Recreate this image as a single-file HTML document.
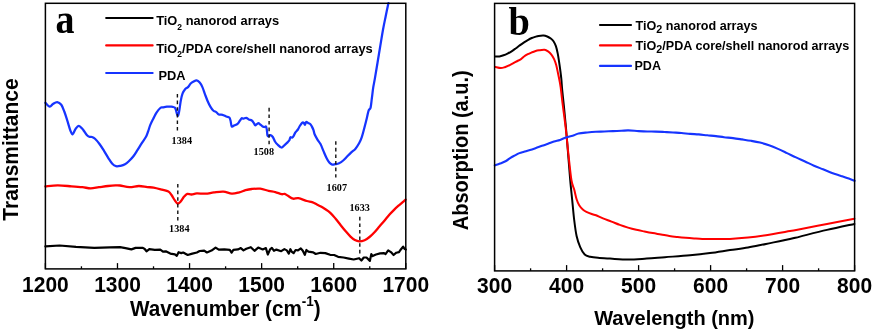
<!DOCTYPE html>
<html><head><meta charset="utf-8"><style>
html,body{margin:0;padding:0;background:#fff;width:874px;height:333px;overflow:hidden}
svg{display:block}
</style></head><body>
<svg width="874" height="333" viewBox="0 0 874 333">
<rect width="874" height="333" fill="#fff"/>

<g fill="none" stroke-linejoin="round" stroke-linecap="round" stroke-width="2.0">
<path d="M45.40,246.40 L59.60,245.50 L76.00,246.90 L94.30,247.80 L109.90,247.40 L120.00,247.20 L125.50,248.10 L131.40,249.40 L135.60,247.90 L142.90,247.90 L144.70,249.00 L146.50,251.30 L149.30,249.20 L154.80,249.90 L160.30,249.70 L163.00,251.70 L165.80,251.30 L170.30,253.60 L174.90,254.30 L176.80,255.80 L178.60,252.20 L181.30,253.10 L183.20,252.50 L187.70,255.00 L192.30,253.60 L196.90,252.50 L199.60,251.00 L204.20,250.60 L206.90,252.50 L211.50,250.60 L215.60,247.60 L218.80,249.70 L224.30,249.40 L229.80,249.90 L231.60,252.60 L233.40,249.90 L238.00,249.40 L240.80,248.10 L243.50,250.40 L246.30,248.80 L250.80,247.20 L254.50,250.80 L258.20,247.60 L262.70,249.40 L265.90,248.10 L267.80,254.50 L270.10,249.40 L271.90,247.90 L274.00,250.80 L276.40,249.60 L281.20,251.20 L284.40,249.10 L286.80,250.40 L288.80,253.60 L290.40,249.20 L291.60,251.60 L293.60,253.20 L295.60,250.00 L298.00,250.40 L300.80,248.40 L302.80,250.80 L304.80,254.80 L306.40,250.00 L308.40,251.60 L313.20,252.30 L315.70,254.00 L320.50,252.80 L325.30,253.10 L330.10,254.80 L334.10,255.00 L338.10,256.80 L343.50,257.50 L348.90,258.60 L353.70,259.50 L359.10,258.20 L361.40,260.50 L363.80,257.50 L366.50,257.50 L369.90,260.90 L371.30,254.10 L372.60,256.10 L376.00,254.50 L380.10,253.40 L384.10,253.10 L385.50,254.10 L388.20,250.40 L390.90,252.10 L393.60,255.00 L396.30,252.70 L399.00,252.10 L400.40,250.00 L403.10,246.70 L404.40,248.70 L405.80,249.40" stroke="#000" stroke-width="2.2"/>
<path d="M45.40,186.50 C47.45,186.32 53.35,185.43 57.70,185.40 C62.05,185.37 67.38,186.00 71.50,186.30 C75.62,186.60 79.20,186.87 82.40,187.20 C85.60,187.53 87.95,188.30 90.70,188.30 C93.45,188.30 96.02,187.58 98.90,187.20 C101.78,186.82 105.25,186.30 108.00,186.00 C110.75,185.70 113.40,185.48 115.40,185.40 C117.40,185.32 117.65,185.22 120.00,185.50 C122.35,185.78 126.35,187.02 129.50,187.10 C132.65,187.18 135.93,186.00 138.90,186.00 C141.87,186.00 144.85,186.83 147.30,187.10 C149.75,187.37 151.15,187.17 153.60,187.60 C156.05,188.03 159.53,189.03 162.00,189.70 C164.47,190.37 166.82,190.72 168.40,191.60 C169.98,192.48 170.45,193.57 171.50,195.00 C172.55,196.43 173.68,198.77 174.70,200.20 C175.72,201.63 176.63,203.33 177.60,203.60 C178.57,203.87 179.42,202.97 180.50,201.80 C181.58,200.63 182.97,197.92 184.10,196.60 C185.23,195.28 186.07,194.25 187.30,193.90 C188.53,193.55 189.92,194.58 191.50,194.50 C193.08,194.42 194.47,193.53 196.80,193.40 C199.13,193.27 202.65,193.87 205.50,193.70 C208.35,193.53 210.92,192.75 213.90,192.40 C216.88,192.05 220.42,191.38 223.40,191.60 C226.38,191.82 229.17,193.57 231.80,193.70 C234.43,193.83 236.92,192.98 239.20,192.40 C241.48,191.82 243.40,190.77 245.50,190.20 C247.60,189.63 249.35,189.25 251.80,189.00 C254.25,188.75 257.40,188.40 260.20,188.70 C263.00,189.00 266.08,190.23 268.60,190.80 C271.12,191.37 273.13,191.53 275.30,192.10 C277.47,192.67 280.03,193.90 281.60,194.20 C283.17,194.50 283.65,193.63 284.70,193.90 C285.75,194.17 286.50,195.00 287.90,195.80 C289.30,196.60 291.35,198.32 293.10,198.70 C294.85,199.08 296.12,197.72 298.40,198.10 C300.68,198.48 304.52,200.33 306.80,201.00 C309.08,201.67 310.35,201.48 312.10,202.10 C313.85,202.72 315.73,203.92 317.30,204.70 C318.87,205.48 320.22,206.08 321.50,206.80 C322.78,207.52 323.53,208.00 325.00,209.00 C326.47,210.00 328.53,211.18 330.30,212.80 C332.07,214.42 333.87,216.63 335.60,218.70 C337.33,220.77 339.02,223.10 340.70,225.20 C342.38,227.30 344.07,229.40 345.70,231.30 C347.33,233.20 348.97,235.15 350.50,236.60 C352.03,238.05 353.45,239.22 354.90,240.00 C356.35,240.78 357.58,241.27 359.20,241.30 C360.82,241.33 362.88,240.92 364.60,240.20 C366.32,239.48 367.85,238.33 369.50,237.00 C371.15,235.67 372.85,233.95 374.50,232.20 C376.15,230.45 377.75,228.42 379.40,226.50 C381.05,224.58 382.75,222.65 384.40,220.70 C386.05,218.75 387.65,216.65 389.30,214.80 C390.95,212.95 392.65,211.22 394.30,209.60 C395.95,207.98 397.55,206.57 399.20,205.10 C400.85,203.63 403.13,201.72 404.20,200.80 C405.27,199.88 405.37,199.80 405.60,199.60" stroke="#ff0000" stroke-width="2.3"/>
<path d="M45.40,102.80 C46.12,103.45 48.43,106.50 49.70,106.70 C50.97,106.90 51.75,104.77 53.00,104.00 C54.25,103.23 55.82,101.97 57.20,102.10 C58.58,102.23 60.12,103.23 61.30,104.80 C62.48,106.37 63.30,108.87 64.30,111.50 C65.30,114.13 66.30,117.47 67.30,120.60 C68.30,123.73 69.42,128.00 70.30,130.30 C71.18,132.60 71.72,134.65 72.60,134.40 C73.48,134.15 74.55,130.23 75.60,128.80 C76.65,127.37 77.78,125.80 78.90,125.80 C80.02,125.80 81.45,127.93 82.30,128.80 C83.15,129.67 83.25,129.97 84.00,131.00 C84.75,132.03 85.92,134.03 86.80,135.00 C87.68,135.97 88.43,136.47 89.30,136.80 C90.17,137.13 91.05,136.67 92.00,137.00 C92.95,137.33 93.75,137.63 95.00,138.80 C96.25,139.97 98.00,142.00 99.50,144.00 C101.00,146.00 102.50,148.42 104.00,150.80 C105.50,153.18 107.12,156.13 108.50,158.30 C109.88,160.47 111.05,162.48 112.30,163.80 C113.55,165.12 114.63,165.87 116.00,166.20 C117.37,166.53 119.00,166.12 120.50,165.80 C122.00,165.48 123.62,165.05 125.00,164.30 C126.38,163.55 127.40,162.63 128.80,161.30 C130.20,159.97 131.93,158.22 133.40,156.30 C134.87,154.38 136.20,152.00 137.60,149.80 C139.00,147.60 140.40,145.27 141.80,143.10 C143.20,140.93 144.95,138.73 146.00,136.80 C147.05,134.87 147.40,133.43 148.10,131.50 C148.80,129.57 149.32,127.37 150.20,125.20 C151.08,123.03 152.35,120.60 153.40,118.50 C154.45,116.40 155.35,114.35 156.50,112.60 C157.65,110.85 159.25,108.87 160.30,108.00 C161.35,107.13 161.68,107.62 162.80,107.40 C163.92,107.18 165.60,106.82 167.00,106.70 C168.40,106.58 170.25,106.67 171.20,106.70 C172.15,106.73 172.07,106.72 172.70,106.90 C173.33,107.08 174.40,107.05 175.00,107.80 C175.60,108.55 175.87,110.05 176.30,111.40 C176.73,112.75 177.15,115.75 177.60,115.90 C178.05,116.05 178.47,114.85 179.00,112.30 C179.53,109.75 180.20,103.75 180.80,100.60 C181.40,97.45 181.85,95.35 182.60,93.40 C183.35,91.45 184.40,89.95 185.30,88.90 C186.20,87.85 187.10,88.00 188.00,87.10 C188.90,86.20 189.80,84.40 190.70,83.50 C191.60,82.60 192.42,82.22 193.40,81.70 C194.38,81.18 195.55,80.25 196.60,80.40 C197.65,80.55 198.73,81.48 199.70,82.60 C200.67,83.72 201.52,85.15 202.40,87.10 C203.28,89.05 204.10,91.90 205.00,94.30 C205.90,96.70 206.88,99.40 207.80,101.50 C208.72,103.60 209.60,105.40 210.50,106.90 C211.40,108.40 212.20,109.60 213.20,110.50 C214.20,111.40 215.57,111.63 216.50,112.30 C217.43,112.97 217.80,114.08 218.80,114.50 C219.80,114.92 221.25,114.47 222.50,114.80 C223.75,115.13 225.17,116.05 226.30,116.50 C227.43,116.95 228.60,116.83 229.30,117.50 C230.00,118.17 230.08,119.00 230.50,120.50 C230.92,122.00 231.13,125.70 231.80,126.50 C232.47,127.30 233.55,125.75 234.50,125.30 C235.45,124.85 236.62,124.55 237.50,123.80 C238.38,123.05 239.10,121.72 239.80,120.80 C240.50,119.88 241.08,118.65 241.70,118.30 C242.32,117.95 242.75,118.78 243.50,118.70 C244.25,118.62 245.32,117.67 246.20,117.80 C247.08,117.93 247.87,119.05 248.80,119.50 C249.73,119.95 250.98,119.95 251.80,120.50 C252.62,121.05 253.13,122.00 253.70,122.80 C254.27,123.60 254.70,125.05 255.20,125.30 C255.70,125.55 256.15,124.65 256.70,124.30 C257.25,123.95 257.95,123.20 258.50,123.20 C259.05,123.20 259.37,123.80 260.00,124.30 C260.63,124.80 261.55,125.75 262.30,126.20 C263.05,126.65 263.88,126.95 264.50,127.00 C265.12,127.05 265.62,126.08 266.00,126.50 C266.38,126.92 266.55,128.00 266.80,129.50 C267.05,131.00 267.18,134.37 267.50,135.50 C267.82,136.63 268.20,136.35 268.70,136.30 C269.20,136.25 269.82,135.08 270.50,135.20 C271.18,135.32 272.05,135.95 272.80,137.00 C273.55,138.05 274.22,140.25 275.00,141.50 C275.78,142.75 276.43,143.50 277.50,144.50 C278.57,145.50 280.27,147.37 281.40,147.50 C282.53,147.63 283.23,146.20 284.30,145.30 C285.37,144.40 286.93,142.98 287.80,142.10 C288.67,141.22 289.07,140.82 289.50,140.00 C289.93,139.18 289.98,137.60 290.40,137.20 C290.82,136.80 291.45,137.83 292.00,137.60 C292.55,137.37 293.13,136.67 293.70,135.80 C294.27,134.93 294.70,133.45 295.40,132.40 C296.10,131.35 297.17,130.57 297.90,129.50 C298.63,128.43 299.10,127.12 299.80,126.00 C300.50,124.88 301.47,123.37 302.10,122.80 C302.73,122.23 303.15,122.27 303.60,122.60 C304.05,122.93 304.37,124.90 304.80,124.80 C305.23,124.70 305.67,122.32 306.20,122.00 C306.73,121.68 307.33,122.57 308.00,122.90 C308.67,123.23 309.57,123.42 310.20,124.00 C310.83,124.58 311.25,125.38 311.80,126.40 C312.35,127.42 313.03,128.78 313.50,130.10 C313.97,131.42 313.92,132.68 314.60,134.30 C315.28,135.92 316.62,138.17 317.60,139.80 C318.58,141.43 319.53,142.25 320.50,144.10 C321.47,145.95 322.42,148.63 323.40,150.90 C324.38,153.17 325.42,155.75 326.40,157.70 C327.38,159.65 328.33,161.45 329.30,162.60 C330.27,163.75 331.22,164.33 332.20,164.60 C333.18,164.87 334.05,164.43 335.20,164.20 C336.35,163.97 337.77,163.82 339.10,163.20 C340.43,162.58 341.83,161.65 343.20,160.50 C344.57,159.35 345.92,157.68 347.30,156.30 C348.68,154.92 350.17,153.43 351.50,152.20 C352.83,150.97 354.03,150.38 355.30,148.90 C356.57,147.42 358.03,145.22 359.10,143.30 C360.17,141.38 360.85,139.87 361.70,137.40 C362.55,134.93 363.35,131.68 364.20,128.50 C365.05,125.32 366.07,121.28 366.80,118.30 C367.53,115.32 367.97,112.38 368.60,110.60 C369.23,108.82 370.05,109.72 370.60,107.60 C371.15,105.48 371.47,101.22 371.90,97.90 C372.33,94.58 372.70,90.95 373.20,87.70 C373.70,84.45 374.17,82.65 374.90,78.40 C375.63,74.15 376.70,67.62 377.60,62.20 C378.50,56.78 379.40,51.32 380.30,45.90 C381.20,40.48 382.10,34.65 383.00,29.70 C383.90,24.75 384.80,20.62 385.70,16.20 C386.60,11.78 387.95,5.37 388.40,3.20" stroke="#1634ff" stroke-width="2.25"/>
<path d="M495.40,56.40 C496.07,56.40 498.05,56.58 499.40,56.40 C500.75,56.22 502.15,55.77 503.50,55.30 C504.85,54.83 506.15,54.27 507.50,53.60 C508.85,52.93 510.25,52.15 511.60,51.30 C512.95,50.45 514.25,49.48 515.60,48.50 C516.95,47.52 518.35,46.38 519.70,45.40 C521.05,44.42 522.35,43.48 523.70,42.60 C525.05,41.72 526.45,40.87 527.80,40.10 C529.15,39.33 530.60,38.53 531.80,38.00 C533.00,37.47 533.87,37.25 535.00,36.90 C536.13,36.55 537.17,36.13 538.60,35.90 C540.03,35.67 542.17,35.40 543.60,35.50 C545.03,35.60 546.00,36.00 547.20,36.50 C548.40,37.00 549.75,37.72 550.80,38.50 C551.85,39.28 552.65,39.92 553.50,41.20 C554.35,42.48 555.20,44.17 555.90,46.20 C556.60,48.23 557.20,51.00 557.70,53.40 C558.20,55.80 558.48,57.90 558.90,60.60 C559.32,63.30 559.80,66.60 560.20,69.60 C560.60,72.60 560.97,75.20 561.30,78.60 C561.63,82.00 561.75,85.27 562.20,90.00 C562.65,94.73 563.37,100.67 564.00,107.00 C564.63,113.33 565.30,120.00 566.00,128.00 C566.70,136.00 567.50,146.33 568.20,155.00 C568.90,163.67 569.53,172.50 570.20,180.00 C570.87,187.50 571.53,193.33 572.20,200.00 C572.87,206.67 573.47,214.00 574.20,220.00 C574.93,226.00 575.60,231.47 576.60,236.00 C577.60,240.53 578.85,244.10 580.20,247.20 C581.55,250.30 583.03,253.02 584.70,254.60 C586.37,256.18 587.98,256.17 590.20,256.70 C592.42,257.23 594.70,257.48 598.00,257.80 C601.30,258.12 604.95,258.30 610.00,258.60 C615.05,258.90 622.20,259.60 628.30,259.60 C634.40,259.60 640.50,259.00 646.60,258.60 C652.70,258.20 657.67,257.75 664.90,257.20 C672.13,256.65 682.48,255.98 690.00,255.30 C697.52,254.62 703.33,253.97 710.00,253.10 C716.67,252.23 723.67,251.03 730.00,250.10 C736.33,249.17 742.00,248.53 748.00,247.50 C754.00,246.47 759.00,245.30 766.00,243.90 C773.00,242.50 784.33,240.32 790.00,239.10 C795.67,237.88 793.83,238.13 800.00,236.60 C806.17,235.07 817.93,232.02 827.00,229.90 C836.07,227.78 849.83,224.90 854.40,223.90" stroke="#000"/>
<path d="M495.40,67.00 C496.30,67.18 499.23,68.07 500.80,68.10 C502.37,68.13 503.23,67.73 504.80,67.20 C506.37,66.67 508.40,65.78 510.20,64.90 C512.00,64.02 513.80,62.87 515.60,61.90 C517.40,60.93 519.65,59.97 521.00,59.10 C522.35,58.23 522.57,57.52 523.70,56.70 C524.83,55.88 526.45,54.92 527.80,54.20 C529.15,53.48 530.60,52.90 531.80,52.40 C533.00,51.90 533.80,51.55 535.00,51.20 C536.20,50.85 537.42,50.53 539.00,50.30 C540.58,50.07 542.98,49.62 544.50,49.80 C546.02,49.98 546.98,50.65 548.10,51.40 C549.22,52.15 550.20,53.02 551.20,54.30 C552.20,55.58 553.27,57.30 554.10,59.10 C554.93,60.90 555.55,62.75 556.20,65.10 C556.85,67.45 557.45,70.63 558.00,73.20 C558.55,75.77 559.05,78.08 559.50,80.50 C559.95,82.92 560.20,83.95 560.70,87.70 C561.20,91.45 561.67,96.28 562.50,103.00 C563.33,109.72 564.70,119.33 565.70,128.00 C566.70,136.67 567.55,146.33 568.50,155.00 C569.45,163.67 570.45,174.23 571.40,180.00 C572.35,185.77 573.33,186.40 574.20,189.60 C575.07,192.80 575.77,196.60 576.60,199.20 C577.43,201.80 578.17,203.50 579.20,205.20 C580.23,206.90 581.60,208.30 582.80,209.40 C584.00,210.50 584.80,211.00 586.40,211.80 C588.00,212.60 590.80,213.62 592.40,214.20 C594.00,214.78 594.23,214.60 596.00,215.30 C597.77,216.00 600.42,217.35 603.00,218.40 C605.58,219.45 608.70,220.52 611.50,221.60 C614.30,222.68 617.05,223.90 619.80,224.90 C622.55,225.90 625.25,226.78 628.00,227.60 C630.75,228.42 633.55,229.15 636.30,229.80 C639.05,230.45 641.75,230.95 644.50,231.50 C647.25,232.05 650.05,232.60 652.80,233.10 C655.55,233.60 658.25,234.02 661.00,234.50 C663.75,234.98 666.55,235.58 669.30,236.00 C672.05,236.42 674.75,236.70 677.50,237.00 C680.25,237.30 683.03,237.57 685.80,237.80 C688.57,238.03 691.35,238.22 694.10,238.40 C696.85,238.58 699.55,238.78 702.30,238.90 C705.05,239.02 707.85,239.10 710.60,239.10 C713.35,239.10 715.57,238.92 718.80,238.90 C722.03,238.88 725.13,239.22 730.00,239.00 C734.87,238.78 742.00,238.23 748.00,237.60 C754.00,236.97 759.00,236.28 766.00,235.20 C773.00,234.12 784.33,232.08 790.00,231.10 C795.67,230.12 793.83,230.50 800.00,229.30 C806.17,228.10 817.93,225.67 827.00,223.90 C836.07,222.13 849.83,219.57 854.40,218.70" stroke="#ff0000"/>
<path d="M494.80,165.40 C495.67,165.10 498.13,164.33 500.00,163.60 C501.87,162.87 504.25,161.97 506.00,161.00 C507.75,160.03 509.00,158.73 510.50,157.80 C512.00,156.87 513.50,156.18 515.00,155.40 C516.50,154.62 518.00,153.70 519.50,153.10 C521.00,152.50 522.25,152.30 524.00,151.80 C525.75,151.30 528.00,150.73 530.00,150.10 C532.00,149.47 534.00,148.72 536.00,148.00 C538.00,147.28 540.00,146.50 542.00,145.80 C544.00,145.10 546.00,144.52 548.00,143.80 C550.00,143.08 552.00,142.15 554.00,141.50 C556.00,140.85 558.00,140.57 560.00,139.90 C562.00,139.23 563.67,138.28 566.00,137.50 C568.33,136.72 571.90,135.87 574.00,135.20 C576.10,134.53 576.40,133.95 578.60,133.50 C580.80,133.05 584.35,132.78 587.20,132.50 C590.05,132.22 592.85,131.97 595.70,131.80 C598.55,131.63 601.43,131.62 604.30,131.50 C607.17,131.38 610.03,131.22 612.90,131.10 C615.77,130.98 618.93,130.92 621.50,130.80 C624.07,130.68 625.45,130.35 628.30,130.40 C631.15,130.45 635.45,130.92 638.60,131.10 C641.75,131.28 644.33,131.42 647.20,131.50 C650.07,131.58 652.93,131.52 655.80,131.60 C658.67,131.68 661.53,131.85 664.40,132.00 C667.27,132.15 670.15,132.33 673.00,132.50 C675.85,132.67 678.65,132.77 681.50,133.00 C684.35,133.23 687.23,133.67 690.10,133.90 C692.97,134.13 695.83,134.17 698.70,134.40 C701.57,134.63 704.43,135.02 707.30,135.30 C710.17,135.58 713.12,135.78 715.90,136.10 C718.68,136.42 721.15,136.87 724.00,137.20 C726.85,137.53 730.00,137.73 733.00,138.10 C736.00,138.47 739.00,138.95 742.00,139.40 C745.00,139.85 748.00,140.27 751.00,140.80 C754.00,141.33 757.00,141.85 760.00,142.60 C763.00,143.35 766.00,144.25 769.00,145.30 C772.00,146.35 775.00,147.60 778.00,148.90 C781.00,150.20 784.00,151.68 787.00,153.10 C790.00,154.52 793.00,156.00 796.00,157.40 C799.00,158.80 802.00,160.12 805.00,161.50 C808.00,162.88 811.00,164.40 814.00,165.70 C817.00,167.00 820.00,168.10 823.00,169.30 C826.00,170.50 829.00,171.80 832.00,172.90 C835.00,174.00 838.00,174.88 841.00,175.90 C844.00,176.92 847.73,178.18 850.00,179.00 C852.27,179.82 853.83,180.50 854.60,180.80" stroke="#1634ff" stroke-width="2.1"/>
</g>

<g stroke="#111" stroke-width="1.4" stroke-dasharray="3.6 3" fill="none">
<line x1="177.4" y1="94" x2="177.4" y2="130.6"/>
<line x1="269.1" y1="107.8" x2="269.1" y2="144.2"/>
<line x1="335.8" y1="141.2" x2="335.8" y2="177.6"/>
<line x1="177.8" y1="184" x2="177.8" y2="221"/>
<line x1="359.8" y1="216.8" x2="359.8" y2="254"/>
</g>
<g font-family="'Liberation Serif', serif" font-weight="bold" font-size="10.2px" fill="#000" text-anchor="middle">
<text x="181.8" y="143.8">1384</text>
<text x="263.8" y="154.9">1508</text>
<text x="336.8" y="190.9">1607</text>
<text x="179.3" y="232.2">1384</text>
<text x="359.7" y="210.8">1633</text>
</g>
<g fill="none" stroke="#000" stroke-width="1.5">
<rect x="45.4" y="3.3" width="360.40" height="265.60"/>
<rect x="494.6" y="3.4" width="360.00" height="267.50"/>
</g>
<g stroke="#000" stroke-width="1.3">
<line x1="45.40" y1="268.90" x2="45.40" y2="263.10"/>
<line x1="81.44" y1="268.90" x2="81.44" y2="266.30"/>
<line x1="117.48" y1="268.90" x2="117.48" y2="263.10"/>
<line x1="153.52" y1="268.90" x2="153.52" y2="266.30"/>
<line x1="189.56" y1="268.90" x2="189.56" y2="263.10"/>
<line x1="225.60" y1="268.90" x2="225.60" y2="266.30"/>
<line x1="261.64" y1="268.90" x2="261.64" y2="263.10"/>
<line x1="297.68" y1="268.90" x2="297.68" y2="266.30"/>
<line x1="333.72" y1="268.90" x2="333.72" y2="263.10"/>
<line x1="369.76" y1="268.90" x2="369.76" y2="266.30"/>
<line x1="405.80" y1="268.90" x2="405.80" y2="263.10"/>
<line x1="494.60" y1="270.90" x2="494.60" y2="265.10"/>
<line x1="530.60" y1="270.90" x2="530.60" y2="268.30"/>
<line x1="566.60" y1="270.90" x2="566.60" y2="265.10"/>
<line x1="602.60" y1="270.90" x2="602.60" y2="268.30"/>
<line x1="638.60" y1="270.90" x2="638.60" y2="265.10"/>
<line x1="674.60" y1="270.90" x2="674.60" y2="268.30"/>
<line x1="710.60" y1="270.90" x2="710.60" y2="265.10"/>
<line x1="746.60" y1="270.90" x2="746.60" y2="268.30"/>
<line x1="782.60" y1="270.90" x2="782.60" y2="265.10"/>
<line x1="818.60" y1="270.90" x2="818.60" y2="268.30"/>
<line x1="854.60" y1="270.90" x2="854.60" y2="265.10"/>
</g>
<g font-family="'Liberation Sans', Arial, sans-serif" font-weight="bold" font-size="21px" fill="#000">
<text transform="translate(45.40,291.60) scale(1,1.050)" text-anchor="middle">1200</text>
<text transform="translate(117.48,291.60) scale(1,1.050)" text-anchor="middle">1300</text>
<text transform="translate(189.56,291.60) scale(1,1.050)" text-anchor="middle">1400</text>
<text transform="translate(261.64,291.60) scale(1,1.050)" text-anchor="middle">1500</text>
<text transform="translate(333.72,291.60) scale(1,1.050)" text-anchor="middle">1600</text>
<text transform="translate(405.80,291.60) scale(1,1.050)" text-anchor="middle">1700</text>
<text transform="translate(494.60,292.80) scale(1,1.050)" text-anchor="middle">300</text>
<text transform="translate(566.60,292.80) scale(1,1.050)" text-anchor="middle">400</text>
<text transform="translate(638.60,292.80) scale(1,1.050)" text-anchor="middle">500</text>
<text transform="translate(710.60,292.80) scale(1,1.050)" text-anchor="middle">600</text>
<text transform="translate(782.60,292.80) scale(1,1.050)" text-anchor="middle">700</text>
<text transform="translate(854.60,292.80) scale(1,1.050)" text-anchor="middle">800</text>
<text transform="translate(225.4,315.7) scale(1,1.05)" text-anchor="middle" font-size="20.7px">Wavenumber (cm<tspan font-size="13.5px" dy="-9.5">-1</tspan><tspan dy="9.5">)</tspan></text>
<text transform="translate(674.3,324.9) scale(1,1.05)" text-anchor="middle" font-size="20px">Wavelength (nm)</text>
<text transform="translate(17.7,149.5) rotate(-90) scale(1,1.05)" text-anchor="middle">Transmittance</text>
<text transform="translate(467.5,150.3) rotate(-90) scale(1,1.1)" text-anchor="middle" font-size="20px">Absorption (a.u.)</text>
</g>
<g font-family="'Liberation Serif', serif" font-weight="bold" font-size="40px" fill="#000">
<text transform="translate(55.6,32.9) scale(0.95,1.07)">a</text>
<text transform="translate(508.6,35) scale(0.96,1.02)">b</text>
</g>
<g stroke-width="2.2" stroke-linecap="round">
<line x1="106.2" y1="18" x2="152.6" y2="18" stroke="#000"/>
<line x1="106.2" y1="45.4" x2="152.6" y2="45.4" stroke="#ff0000"/>
<line x1="106.2" y1="73" x2="152.6" y2="73" stroke="#1634ff"/>
<line x1="600" y1="25" x2="631" y2="25" stroke="#000"/>
<line x1="600" y1="45.4" x2="631" y2="45.4" stroke="#ff0000"/>
<line x1="600" y1="65.9" x2="631" y2="65.9" stroke="#1634ff"/>
</g>
<g font-family="'Liberation Sans', Arial, sans-serif" font-weight="bold" fill="#000">
<g font-size="12.85px">
<text transform="translate(156.2,25.4) scale(1,1.05)">TiO<tspan font-size="8.5px" dy="4.2">2</tspan><tspan dy="-4.2"> nanorod arrays</tspan></text>
<text transform="translate(156.2,52.8) scale(1,1.05)">TiO<tspan font-size="8.5px" dy="4.2">2</tspan><tspan dy="-4.2">/PDA core/shell nanorod arrays</tspan></text>
<text transform="translate(158.5,79.9) scale(1,1.05)">PDA</text>
</g>
<g font-size="12.6px">
<text transform="translate(635.6,30.1) scale(1,1.05)">TiO<tspan font-size="10.8px" dy="2.9">2</tspan><tspan dy="-2.9"> nanorod arrays</tspan></text>
<text transform="translate(635.6,50.4) scale(1,1.05)">TiO<tspan font-size="10.8px" dy="2.9">2</tspan><tspan dy="-2.9">/PDA core/shell nanorod arrays</tspan></text>
<text transform="translate(634.4,70.3) scale(1,1.05)">PDA</text>
</g>
</g>
</svg>
</body></html>
